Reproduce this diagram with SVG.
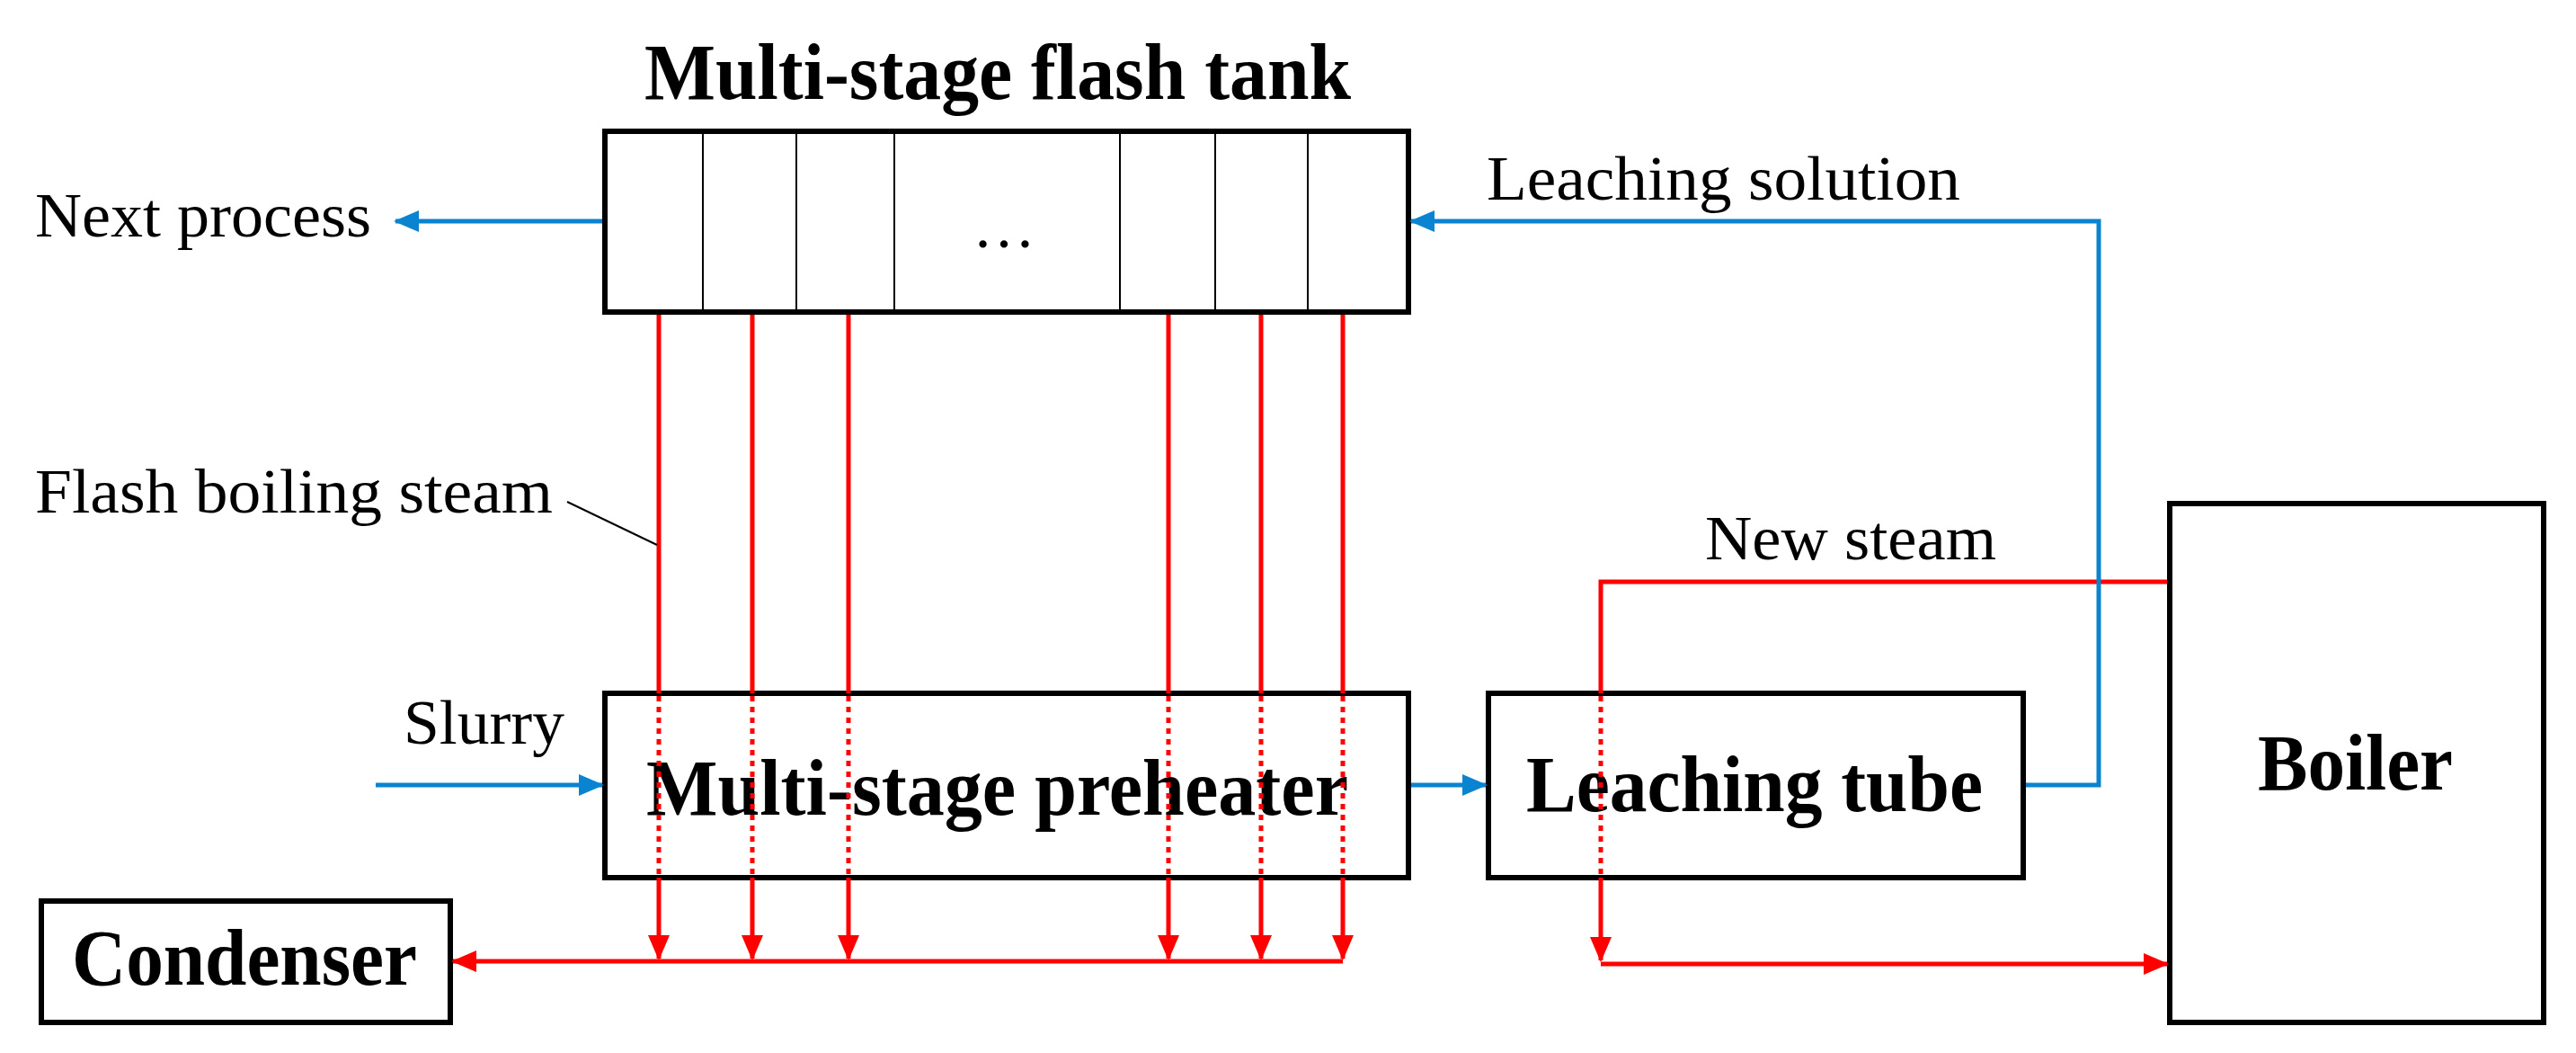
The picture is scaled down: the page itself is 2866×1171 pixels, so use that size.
<svg xmlns="http://www.w3.org/2000/svg" width="2866" height="1171" viewBox="0 0 2866 1171">
<style>
.box{fill:#fff;stroke:#000;stroke-width:6}
.boxn{fill:none;stroke:#000;stroke-width:6}
.div{stroke:#000;stroke-width:2}
.t{font-family:"Liberation Serif","Times New Roman",serif;font-size:70px;fill:#000}
.b{font-family:"Liberation Serif","Times New Roman",serif;font-size:88px;font-weight:bold;fill:#000}
.red{fill:none;stroke:#ff0000;stroke-width:5}
.redd{fill:none;stroke:#ff0000;stroke-width:5;stroke-dasharray:6 6}
.blue{fill:none;stroke:#0a84d0;stroke-width:5}
</style>
<defs>
<marker id="ar" markerUnits="userSpaceOnUse" markerWidth="28" markerHeight="24" refX="26" refY="12" orient="auto"><path d="M0,0 L28,12 L0,24 Z" fill="#ff0000"/></marker>
<marker id="ab" markerUnits="userSpaceOnUse" markerWidth="28" markerHeight="24" refX="26" refY="12" orient="auto"><path d="M0,0 L28,12 L0,24 Z" fill="#0a84d0"/></marker>
</defs>
<rect width="2866" height="1171" fill="#fff"/>
<g id="flash-tank">
<rect class="box" x="673" y="146" width="894" height="201"/>
<path class="div" d="M782,146V347M886,146V347M995,146V347M1246,146V347M1352,146V347M1455,146V347"/>
<text class="t" x="1117" y="275" text-anchor="middle">…</text>
<text class="b" x="717" y="110" textLength="786" lengthAdjust="spacingAndGlyphs">Multi-stage flash tank</text>
</g>
<g id="preheater">
<rect class="boxn" x="673" y="771" width="894" height="205"/>
<text class="b" x="719" y="906" textLength="781" lengthAdjust="spacingAndGlyphs">Multi-stage preheater</text>
</g>
<g id="condenser">
<rect class="box" x="46" y="1002" width="455" height="135"/>
<text class="b" x="80" y="1095" textLength="384" lengthAdjust="spacingAndGlyphs">Condenser</text>
</g>
<g id="leaching-tube">
<rect class="boxn" x="1656" y="771" width="595" height="205"/>
<text class="b" x="1698" y="902" textLength="508" lengthAdjust="spacingAndGlyphs">Leaching tube</text>
</g>
<g id="boiler">
<rect class="box" x="2414" y="560" width="416" height="577"/>
<text class="b" x="2512" y="878" textLength="217" lengthAdjust="spacingAndGlyphs">Boiler</text>
</g>
<g id="connectors">
<g id="steam-lines">
<path class="red" d="M733,350V771M733,976V1066" marker-end="url(#ar)"/>
<path class="red" d="M837,350V771M837,976V1066" marker-end="url(#ar)"/>
<path class="red" d="M944,350V771M944,976V1066" marker-end="url(#ar)"/>
<path class="red" d="M1300,350V771M1300,976V1066" marker-end="url(#ar)"/>
<path class="red" d="M1403,350V771M1403,976V1066" marker-end="url(#ar)"/>
<path class="red" d="M1494,350V771M1494,976V1066" marker-end="url(#ar)"/>
<path class="redd" d="M733,774V973M837,774V973M944,774V973M1300,774V973M1403,774V973M1494,774V973"/>
<path class="red" d="M1494,1069H504" marker-end="url(#ar)"/>
</g>
<path class="red" d="M2411,647H1781V771"/>
<path class="redd" d="M1781,774V973"/>
<path class="red" d="M1781,976V1068" marker-end="url(#ar)"/>
<path class="red" d="M1781,1072H2411" marker-end="url(#ar)"/>
<path class="blue" d="M670,246H440" marker-end="url(#ab)"/>
<path class="blue" d="M418,873H670" marker-end="url(#ab)"/>
<path class="blue" d="M1570,873H1653" marker-end="url(#ab)"/>
<path class="blue" d="M2254,873H2335V246H1570" marker-end="url(#ab)"/>
<line x1="631" y1="558" x2="731" y2="606" stroke="#000" stroke-width="2"/>
</g>
<g id="labels">
<text class="t" x="39" y="263" textLength="374" lengthAdjust="spacingAndGlyphs">Next process</text>
<text class="t" x="39" y="570" textLength="576" lengthAdjust="spacingAndGlyphs">Flash boiling steam</text>
<text class="t" x="449" y="827" textLength="179" lengthAdjust="spacingAndGlyphs">Slurry</text>
<text class="t" x="1654" y="222" textLength="527" lengthAdjust="spacingAndGlyphs">Leaching solution</text>
<text class="t" x="1897" y="622" textLength="324" lengthAdjust="spacingAndGlyphs">New steam</text>
</g>
</svg>
